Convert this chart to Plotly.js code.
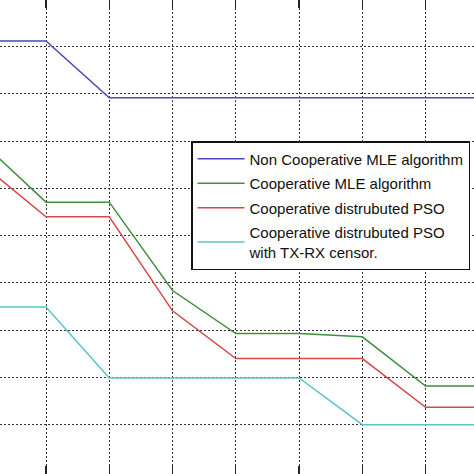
<!DOCTYPE html>
<html>
<head>
<meta charset="utf-8">
<script src="https://cdn.plot.ly/plotly-3.0.1.min.js"></script>
<style>html,body{margin:0;padding:0;background:#fff;}#chart{width:474px;height:474px;}</style>
</head>
<body>
<div id="chart"></div>
<script>
// Data (arbitrary index units)
const xValues = [0, 1, 2, 3, 4, 5, 6, 7, 8];
const nonCoopMLE = [9.12, 9.12, 7.92, 7.92, 7.92, 7.92, 7.92, 7.92, 7.92];
const coopMLE = [6.96, 5.71, 5.71, 3.84, 2.93, 2.93, 2.86, 1.82, 1.82];
const coopPSO = [6.50, 5.40, 5.40, 3.41, 2.40, 2.40, 2.40, 1.37, 1.37];
const coopPSOCensor = [3.49, 3.49, 1.99, 1.99, 1.99, 1.99, 1.00, 1.00, 1.00];
const seriesNames = [
  'Non Cooperative MLE algorithm',
  'Cooperative MLE algorithm',
  'Cooperative distrubuted PSO',
  'Cooperative distrubuted PSO<br>with TX-RX censor.'
];
const xTicks = [1, 2, 3, 4, 5, 6, 7];
const yTicks = [1, 2, 3, 4, 5, 6, 7, 8, 9];

const colors = ['#4a4ab8', '#3f8f3f', '#d24a4a', '#5cc6c6'];
const allSeries = [nonCoopMLE, coopMLE, coopPSO, coopPSOCensor];

const traces = allSeries.map((ys, i) => ({
  x: xValues, y: ys, type: 'scatter', mode: 'lines',
  name: seriesNames[i], legendgroup: 'g' + i,
  line: {color: colors[i], width: 1.5}
}));

const layout = {
  width: 474, height: 474,
  margin: {l: 0, r: 0, t: 0, b: 0, pad: 0},
  paper_bgcolor: '#fff', plot_bgcolor: '#fff',
  showlegend: true,
  xaxis: {
    range: [0.273, 7.765], tickvals: xTicks, showticklabels: false,
    showgrid: true, gridcolor: '#333', griddash: '2px,2px', gridwidth: 1,
    zeroline: false, showline: false,
    ticks: 'inside', ticklen: 8, tickcolor: '#222', tickwidth: 1.2, mirror: 'ticks'
  },
  yaxis: {
    range: [-0.043, 9.988], tickvals: yTicks, showticklabels: false,
    showgrid: true, gridcolor: '#333', griddash: '2px,2px', gridwidth: 1,
    zeroline: false, showline: false, ticks: ''
  },
  legend: {
    x: 0.403, y: 0.7025, xanchor: 'left', yanchor: 'top',
    bgcolor: '#fff', bordercolor: '#111', borderwidth: 1.5,
    font: {family: 'Liberation Sans, Arial, sans-serif', size: 15, color: '#111'},
    itemwidth: 47, tracegroupgap: 2, traceorder: 'grouped'
  }
};

Plotly.newPlot('chart', traces, layout, {staticPlot: true, displayModeBar: false});
</script>
</body>
</html>
